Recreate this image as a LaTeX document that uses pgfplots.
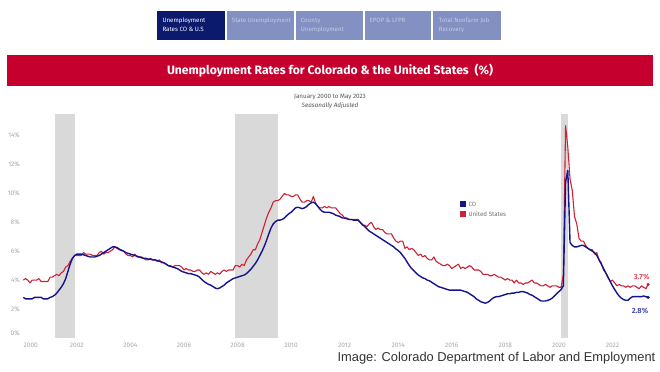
\documentclass[border=0pt]{standalone}
\usepackage{pgfplots}
\pgfplotsset{compat=1.18}
\usepackage{fontspec}
\setmainfont{Fira Sans}
\newfontfamily\creditfont{Liberation Sans}
\definecolor{coblue}{HTML}{14148C}
\definecolor{usred}{HTML}{D02035}
\definecolor{colab}{HTML}{4C4CB0}
\definecolor{uslab}{HTML}{E0505E}
\definecolor{banner}{HTML}{C5002E}
\definecolor{tabnavy}{HTML}{0C1A6E}
\definecolor{tablight}{HTML}{8390C2}
\definecolor{tabtext}{HTML}{C3CAE6}
\definecolor{bandgray}{HTML}{D9D9D9}
\definecolor{tickgray}{HTML}{A8A8A8}
\definecolor{subgray}{HTML}{555555}
\definecolor{leggray}{HTML}{707070}
\definecolor{creditgray}{HTML}{333333}
\begin{document}
\begin{tikzpicture}[x=1bp,y=1bp]
\fill[white] (0,0) rectangle (660,371);
% navigation tabs
\fill[tabnavy]  (157.3,330.7) rectangle (225.3,360);
\fill[tablight] (227.0,330.7) rectangle (294.0,360);
\fill[tablight] (295.7,330.7) rectangle (362.7,360);
\fill[tablight] (364.7,330.7) rectangle (431.3,360);
\fill[tablight] (433.3,330.7) rectangle (501.0,360);
\begin{scope}[every node/.style={anchor=north west, inner sep=0pt, align=left, font=\fontsize{6.2}{8.6}\selectfont}]
\node[text=white]   at (162.3,353) {Unemployment\\Rates CO \& U.S};
\node[text=tabtext] at (231.7,353) {State Unemployment};
\node[text=tabtext] at (300.7,353) {County\\Unemployment};
\node[text=tabtext] at (369.3,353) {EPOP \& LFPR};
\node[text=tabtext] at (438.7,353) {Total Nonfarm Job\\Recovery};
\end{scope}
% title banner
\fill[banner] (7,285) rectangle (653,316.5);
\node[text=white, inner sep=0pt, font=\fontsize{12.2}{14}\selectfont\bfseries] at (330,300.5) {Unemployment Rates for Colorado \& the United States~~(\%)};
\node[text=subgray, inner sep=0pt, font=\fontsize{6.3}{7}\selectfont] at (330,273.7) {January 2000 to May 2023};
\node[text=subgray, inner sep=0pt, font=\fontsize{6.3}{7}\selectfont\itshape] at (330,265.3) {Seasonally Adjusted};

\begin{axis}[
  at={(20.6bp,33.2bp)}, anchor=south west,
  scale only axis, width=632bp, height=223.7bp,
  xmin=1999.9, xmax=2023.5, ymin=0, ymax=15.5,
  axis line style={draw=none}, tick style={draw=none},
  xtick={2000.28,2002,2004,2006,2008,2010,2012,2014,2016,2018,2020,2022},
  xticklabels={2000,2002,2004,2006,2008,2010,2012,2014,2016,2018,2020,2022},
  ytick={0.31,2,4,6,8,10,12,14},
  yticklabels={0\%,2\%,4\%,6\%,8\%,10\%,12\%,14\%},
  ticklabel style={font=\fontsize{6.6}{7.5}\selectfont, text=tickgray, inner sep=0pt},
  xticklabel style={anchor=north, yshift=-5.5bp},
  yticklabel style={anchor=east, xshift=-0.6bp},
  clip=false,
]
% recession bands
\addplot[fill=bandgray, draw=none, forget plot] coordinates {(2001.167,15.5) (2001.917,15.5)} \closedcycle;
\addplot[fill=bandgray, draw=none, forget plot] coordinates {(2007.917,15.5) (2009.5,15.5)} \closedcycle;
\addplot[fill=bandgray, draw=none, forget plot] coordinates {(2020.083,15.5) (2020.333,15.5)} \closedcycle;
% United States
\addplot[usred, line width=1.1bp, line join=round] table[x expr=2000+\coordindex/12, y index=0, header=false, row sep=\\] {
4.0\\4.1\\4.0\\3.8\\4.0\\4.0\\4.0\\4.1\\3.9\\3.9\\3.9\\3.9\\
4.2\\4.2\\4.3\\4.4\\4.3\\4.5\\4.6\\4.9\\5.0\\5.3\\5.5\\5.7\\
5.7\\5.7\\5.7\\5.9\\5.8\\5.8\\5.8\\5.7\\5.7\\5.7\\5.9\\6.0\\
5.8\\5.9\\5.9\\6.0\\6.1\\6.3\\6.2\\6.1\\6.1\\6.0\\5.8\\5.7\\
5.7\\5.6\\5.8\\5.6\\5.6\\5.6\\5.5\\5.4\\5.4\\5.5\\5.4\\5.4\\
5.3\\5.4\\5.2\\5.2\\5.1\\5.0\\5.0\\4.9\\5.0\\5.0\\5.0\\4.9\\
4.7\\4.8\\4.7\\4.7\\4.6\\4.6\\4.7\\4.7\\4.5\\4.4\\4.5\\4.4\\
4.6\\4.5\\4.4\\4.5\\4.4\\4.6\\4.7\\4.6\\4.7\\4.7\\4.7\\5.0\\
5.0\\4.9\\5.1\\5.0\\5.4\\5.6\\5.8\\6.1\\6.1\\6.5\\6.8\\7.3\\
7.8\\8.3\\8.7\\9.0\\9.4\\9.5\\9.5\\9.6\\9.8\\10.0\\9.9\\9.9\\
9.8\\9.8\\9.9\\9.9\\9.6\\9.4\\9.4\\9.5\\9.5\\9.4\\9.8\\9.3\\
9.1\\9.0\\9.0\\9.1\\9.0\\9.1\\9.0\\9.0\\9.0\\8.8\\8.6\\8.5\\
8.3\\8.3\\8.2\\8.2\\8.2\\8.2\\8.2\\8.0\\7.8\\7.8\\7.7\\7.9\\
8.0\\7.7\\7.5\\7.6\\7.5\\7.5\\7.3\\7.2\\7.2\\7.2\\6.9\\6.7\\
6.6\\6.7\\6.7\\6.2\\6.3\\6.1\\6.2\\6.1\\5.9\\5.7\\5.8\\5.6\\
5.7\\5.5\\5.4\\5.4\\5.6\\5.3\\5.2\\5.1\\5.0\\5.0\\5.1\\5.0\\
4.8\\4.9\\5.0\\5.1\\4.8\\4.9\\4.8\\4.9\\5.0\\4.9\\4.7\\4.7\\
4.7\\4.6\\4.4\\4.4\\4.4\\4.3\\4.3\\4.4\\4.3\\4.2\\4.2\\4.1\\
4.0\\4.1\\4.0\\4.0\\3.8\\4.0\\3.8\\3.8\\3.7\\3.8\\3.8\\3.9\\
4.0\\3.8\\3.8\\3.7\\3.6\\3.6\\3.7\\3.6\\3.5\\3.6\\3.6\\3.6\\
3.5\\3.5\\4.4\\14.7\\13.2\\11.0\\10.2\\8.4\\7.9\\6.9\\6.7\\6.7\\
6.4\\6.2\\6.1\\6.1\\5.8\\5.9\\5.4\\5.2\\4.7\\4.5\\4.2\\3.9\\
4.0\\3.8\\3.6\\3.7\\3.6\\3.6\\3.5\\3.6\\3.5\\3.6\\3.6\\3.5\\
3.4\\3.6\\3.5\\3.4\\3.7\\
};
% Colorado
\addplot[coblue, line width=1.4bp, line join=round] table[x expr=2000+\coordindex/12, y index=0, header=false, row sep=\\] {
2.8\\2.7\\2.7\\2.7\\2.7\\2.8\\2.8\\2.8\\2.8\\2.7\\2.7\\2.7\\
2.8\\2.85\\2.95\\3.1\\3.3\\3.5\\3.75\\4.1\\4.6\\5.1\\5.5\\5.7\\
5.8\\5.8\\5.8\\5.75\\5.7\\5.65\\5.6\\5.6\\5.6\\5.65\\5.7\\5.8\\
5.9\\6.0\\6.1\\6.2\\6.3\\6.3\\6.25\\6.15\\6.05\\6.0\\5.9\\5.85\\
5.8\\5.75\\5.7\\5.65\\5.6\\5.55\\5.5\\5.5\\5.45\\5.45\\5.4\\5.4\\
5.35\\5.3\\5.25\\5.2\\5.1\\5.0\\4.95\\4.9\\4.85\\4.8\\4.7\\4.6\\
4.55\\4.5\\4.45\\4.45\\4.4\\4.35\\4.3\\4.2\\4.05\\3.9\\3.8\\3.7\\
3.65\\3.55\\3.45\\3.4\\3.45\\3.55\\3.65\\3.8\\3.9\\4.0\\4.1\\4.15\\
4.2\\4.25\\4.3\\4.35\\4.45\\4.6\\4.75\\4.95\\5.15\\5.4\\5.7\\6.0\\
6.35\\6.75\\7.2\\7.6\\7.9\\8.05\\8.15\\8.15\\8.2\\8.3\\8.45\\8.6\\
8.7\\8.85\\9.0\\9.05\\9.0\\8.95\\9.0\\9.1\\9.25\\9.35\\9.4\\9.3\\
9.1\\8.9\\8.75\\8.7\\8.7\\8.7\\8.65\\8.6\\8.5\\8.45\\8.4\\8.3\\
8.3\\8.25\\8.2\\8.2\\8.15\\8.15\\8.15\\8.0\\7.85\\7.7\\7.55\\7.4\\
7.3\\7.2\\7.1\\7.0\\6.9\\6.8\\6.7\\6.6\\6.5\\6.4\\6.3\\6.15\\
6.05\\5.9\\5.7\\5.5\\5.25\\5.0\\4.8\\4.65\\4.5\\4.35\\4.25\\4.15\\
4.1\\4.0\\3.95\\3.85\\3.75\\3.65\\3.55\\3.5\\3.45\\3.4\\3.35\\3.3\\
3.3\\3.3\\3.3\\3.3\\3.3\\3.25\\3.2\\3.15\\3.05\\2.95\\2.85\\2.7\\
2.6\\2.5\\2.45\\2.4\\2.45\\2.55\\2.7\\2.8\\2.85\\2.85\\2.9\\2.95\\
3.0\\3.05\\3.05\\3.1\\3.1\\3.15\\3.15\\3.2\\3.2\\3.15\\3.1\\3.0\\
2.95\\2.85\\2.75\\2.65\\2.55\\2.55\\2.55\\2.6\\2.65\\2.75\\2.9\\3.05\\
3.2\\3.35\\3.6\\10.8\\11.6\\6.6\\6.4\\6.3\\6.3\\6.35\\6.4\\6.4\\
6.3\\6.2\\6.1\\6.0\\5.9\\5.7\\5.4\\5.1\\4.8\\4.5\\4.2\\3.9\\
3.6\\3.35\\3.1\\2.9\\2.75\\2.65\\2.6\\2.6\\2.75\\2.85\\2.85\\2.85\\
2.85\\2.85\\2.9\\2.85\\2.8\\
};
% end markers
\addplot[only marks, mark=*, mark size=1.3bp, usred] coordinates {(2023.333,3.7)};
\addplot[only marks, mark=*, mark size=1.4bp, coblue] coordinates {(2023.333,2.8)};
% end labels
\node[text=uslab, inner sep=0pt, font=\fontsize{7.5}{9}\selectfont\bfseries] at (axis cs:2023.09,4.19) {3.7\%};
\node[text=colab, inner sep=0pt, font=\fontsize{7.5}{9}\selectfont\bfseries] at (axis cs:2023.03,1.88) {2.8\%};
\end{axis}
% legend
\fill[coblue] (460,163.7) rectangle (466,169.7);
\fill[usred]  (460,154.0) rectangle (466,159.7);
\node[anchor=west, inner sep=0pt, text=leggray, font=\fontsize{6.2}{7}\selectfont] at (468.3,166.7) {CO};
\node[anchor=west, inner sep=0pt, text=leggray, font=\fontsize{6.2}{7}\selectfont] at (468.3,156.9) {United States};
% credit
\node[anchor=east, inner sep=0pt, text=creditgray, font=\creditfont\fontsize{12.9}{14}\selectfont] at (655.5,13) {Image: Colorado Department of Labor and Employment};
\end{tikzpicture}
\end{document}
